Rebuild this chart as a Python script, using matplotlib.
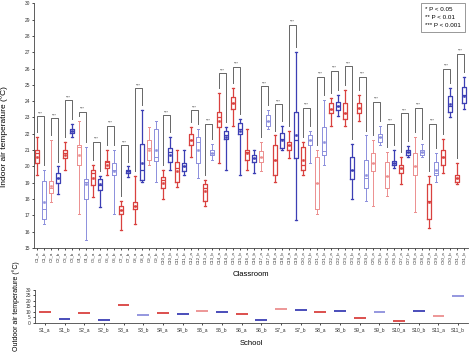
import numpy as np
import matplotlib
matplotlib.use('Agg')
import matplotlib.pyplot as plt

plt.rcParams['font.family'] = ['Liberation Sans', 'DejaVu Sans']

# classroom box statistics (whisker low, q1, median, q3, whisker high, mean)
classrooms = ['C%d_%s' % (i // 2 + 1, 'ab'[i % 2]) for i in range(62)]
wlo = [19.5, 16.5, 17.8, 18.3, 19.8, 21.8, 17.1, 15.5, 18.1, 17.5, 19.5, 17.1, 16.1, 19.36, 16.5, 19.06,
       20.1, 19.06, 18.0, 19.8, 18.75, 19.5, 20.6, 19.3, 17.6, 20.4, 20.2, 19.8, 22.5, 19.5, 19.8, 19.6,
       19.7, 22.3, 19.06, 21.0, 20.5, 16.7, 19.5, 20.2, 17.1, 20.1, 22.5, 23.1, 22.5, 18.0, 22.8, 17.9,
       17.6, 21.3, 18.2, 19.9, 18.95, 20.6, 17.2, 20.6, 16.2, 19.06, 19.6, 23.0, 18.9, 23.55]
q1 = [20.2, 16.8, 18.4, 19.0, 20.5, 22.07, 20.1, 18.0, 18.85, 18.55, 19.9, 19.5, 17.1, 19.57, 17.4, 19.16,
      20.4, 20.35, 18.65, 20.3, 19.06, 19.7, 21.3, 20.2, 17.9, 20.7, 22.43, 21.7, 23.55, 22.0, 20.4, 20.3,
      20.3, 22.5, 19.5, 21.1, 21.0, 20.5, 19.8, 21.3, 17.4, 20.7, 23.25, 23.45, 22.9, 19.2, 23.25, 18.65,
      19.7, 21.5, 18.65, 20.1, 19.6, 20.7, 19.5, 20.7, 16.8, 19.5, 20.1, 23.35, 19.06, 23.86]
med = [20.8, 17.4, 18.7, 19.3, 20.8, 22.2, 21.2, 19.06, 19.6, 18.85, 20.25, 19.8, 17.36, 19.7, 17.6, 19.8,
       21.1, 20.6, 19.16, 20.9, 19.9, 20.0, 21.6, 21.5, 18.65, 20.8, 23.0, 21.9, 23.9, 22.3, 20.9, 20.5,
       20.6, 22.8, 20.4, 21.7, 21.3, 21.6, 20.1, 21.6, 19.0, 20.96, 23.55, 23.7, 23.25, 19.8, 23.6, 19.3,
       20.2, 21.8, 19.4, 20.2, 19.9, 20.9, 20.0, 20.86, 17.9, 19.6, 20.6, 23.7, 19.3, 24.4]
q3 = [21.0, 19.1, 19.1, 19.6, 21.0, 22.3, 21.3, 19.2, 19.8, 19.2, 20.35, 20.2, 17.56, 19.8, 17.8, 21.4,
      21.6, 22.3, 19.36, 21.1, 20.3, 20.2, 22.0, 21.8, 18.95, 21.0, 23.35, 22.2, 24.27, 22.67, 21.0, 20.7,
      20.96, 23.15, 21.3, 22.06, 21.5, 23.35, 21.2, 21.9, 20.6, 22.4, 23.86, 23.96, 23.86, 20.55, 23.86, 20.4,
      20.8, 22.0, 20.3, 20.35, 20.1, 21.0, 20.8, 21.0, 18.9, 20.3, 21.0, 24.3, 19.5, 24.85]
whi = [21.8, 19.8, 21.6, 20.0, 21.5, 22.6, 22.8, 21.2, 20.1, 19.4, 21.0, 21.0, 17.9, 20.0, 19.4, 23.45,
       22.4, 22.8, 19.8, 21.8, 21.0, 21.0, 22.4, 22.3, 19.16, 21.37, 24.5, 22.4, 24.8, 22.9, 22.3, 21.0,
       21.5, 23.45, 21.9, 22.5, 22.2, 27.0, 21.5, 22.2, 21.0, 24.1, 24.2, 24.4, 24.7, 21.4, 24.4, 21.9,
       21.6, 22.5, 20.9, 21.0, 20.6, 21.25, 21.8, 21.4, 19.4, 20.8, 21.7, 24.8, 20.2, 25.5]
means = [20.6, 17.8, 18.8, 19.3, 20.7, 22.2, 20.7, 18.9, 19.3, 18.9, 20.1, 19.7, 17.3, 19.7, 17.6, 20.2,
         21.0, 21.0, 19.0, 20.7, 19.7, 20.0, 21.6, 21.0, 18.5, 20.85, 22.8, 21.8, 23.9, 22.2, 20.8, 20.5,
         20.6, 22.8, 20.4, 21.6, 21.3, 21.9, 20.4, 21.6, 19.0, 21.5, 23.5, 23.7, 23.3, 19.8, 23.6, 19.5,
         20.2, 21.8, 19.4, 20.2, 19.9, 20.9, 20.0, 20.86, 17.8, 19.8, 20.6, 23.8, 19.3, 24.3]
# 1 = strong colour, 0 = light colour
shade = [1, 0, 0, 1, 1, 1, 0, 0, 1, 1, 1, 0, 1, 1, 1, 1, 0, 0, 1, 1, 1, 1, 1, 0, 1, 0, 1, 1, 1, 1, 1, 1,
         0, 0, 1, 1, 1, 1, 1, 0, 0, 0, 1, 1, 1, 1, 1, 0, 0, 0, 0, 1, 1, 1, 0, 0, 1, 0, 1, 1, 1, 1]

# significance brackets: pair number (C1 = 0) and bracket height
bracket_pairs = [0, 1, 2, 3, 4, 5, 6, 7, 9, 11, 12, 13, 14, 16, 17, 18, 19, 20, 21, 22, 23, 24, 25, 26,
                 27, 28, 29, 30]
bracket_h = [23.08, 22.94, 24.07, 23.35, 21.5, 22.5, 21.3, 24.78, 23.15, 23.45, 22.6, 25.7, 26.1, 24.9,
             23.8, 28.7, 23.6, 25.5, 25.86, 26.15, 25.5, 23.96, 22.6, 23.25, 23.6, 22.6, 26.0, 26.9]

# outdoor temperature per school
schools = ['S%d_%s' % (i // 2 + 1, 'ab'[i % 2]) for i in range(22)]
outdoor = [9.7, 3.6, 9.1, 2.1, 16.4, 6.7, 9.1, 8.2, 10.3, 9.7, 7.6, 2.7, 12.1, 11.2, 9.7, 10.3,
           4.2, 9.7, 1.8, 10.9, 5.8, 23.9]
school_shade = [1, 1, 1, 1, 1, 0, 1, 1, 0, 1, 1, 1, 0, 1, 1, 1, 1, 0, 1, 1, 0, 0]

red = ['#ec8f8f', '#d9413f']
blue = ['#8c8fdc', '#3c3fb4']

def col(i, s):
    return red[s] if i % 2 == 0 else blue[s]

fig = plt.figure(figsize=(4.74, 3.54), dpi=100)
ax = fig.add_axes([33.5 / 474, 1 - 248 / 354, 434 / 474, 244.7 / 354])

stats = []
for i in range(len(classrooms)):
    stats.append(dict(whislo=wlo[i], q1=q1[i], med=med[i], q3=q3[i], whishi=whi[i], mean=means[i], fliers=[]))
pos = np.arange(len(classrooms))
art = ax.bxp(stats, positions=pos, widths=0.62, showmeans=True, capwidths=0.3,
             meanprops=dict(marker='s', markersize=1.2, markeredgewidth=0.5))
for i in range(len(classrooms)):
    c = col(i, shade[i])
    lw = 0.9 if shade[i] else 0.7
    art['boxes'][i].set(color=c, linewidth=lw)
    art['medians'][i].set(color=c, linewidth=lw)
    art['means'][i].set(markerfacecolor=c, markeredgecolor=c)
    for k in (2 * i, 2 * i + 1):
        art['whiskers'][k].set(color=c, linewidth=lw)
        art['caps'][k].set(color=c, linewidth=lw)

# brackets
for p, h in zip(bracket_pairs, bracket_h):
    a, b = 2 * p, 2 * p + 1
    ax.plot([a, a, b, b], [whi[a] + 0.3, h, h, whi[b] + 0.3], color='#666666', lw=0.7)
    ax.text((a + b) / 2, h + 0.05, '***', ha='center', va='bottom', fontsize=3, color='#333333')

ax.set_xlim(-0.5, 61.5)
ax.set_ylim(15, 30)
ax.set_yticks(range(15, 31))
ax.set_xticks(pos)
ax.set_xticklabels(classrooms, rotation=90, fontsize=3.2)
ax.tick_params(axis='y', labelsize=3.5, length=1.5, width=0.5, pad=1, labelcolor='#333333')
ax.tick_params(axis='x', length=1.5, width=0.5, pad=1, labelcolor='#333333')
for s in ['top', 'right']:
    ax.spines[s].set_visible(False)
for s in ['left', 'bottom']:
    ax.spines[s].set_linewidth(0.6)
    ax.spines[s].set_color('#444444')
ax.set_xlabel('Classroom', fontsize=5.5, labelpad=5)
ax.set_ylabel('Indoor air temperature (\u00b0C)', fontsize=6)
ax.yaxis.set_label_coords(-0.059, 0.455)

ax.text(0.902, 0.983, '* P < 0.05\n** P < 0.01\n*** P < 0.001', transform=ax.transAxes,
        fontsize=4.5, va='top', ha='left', linespacing=1.7,
        bbox=dict(boxstyle='square,pad=0.7', fc='white', ec='#888888', lw=0.6))

# outdoor panel
ax2 = fig.add_axes([35 / 474, 1 - 322.7 / 354, 433 / 474, 33.2 / 354])
spos = np.arange(len(schools))
ax2.hlines(outdoor, spos - 0.3, spos + 0.3,
           colors=[col(i, school_shade[i]) for i in range(len(schools))], lw=1.3)
ax2.set_xlim(-0.5, 21.5)
ax2.set_ylim(0, 30)
ax2.set_yticks(range(0, 31, 5))
ax2.set_xticks(spos)
ax2.set_xticklabels(schools, fontsize=3.5)
ax2.tick_params(labelsize=3.5, length=1.5, width=0.5, pad=1.5, labelcolor='#333333')
for s in ['top', 'right']:
    ax2.spines[s].set_visible(False)
for s in ['left', 'bottom']:
    ax2.spines[s].set_linewidth(0.6)
    ax2.spines[s].set_color('#444444')
ax2.set_xlabel('School', fontsize=5.5, labelpad=6)
ax2.set_ylabel('Outdoor air temperature (\u00b0C)', fontsize=5)

fig.savefig('out.png', dpi=100)
